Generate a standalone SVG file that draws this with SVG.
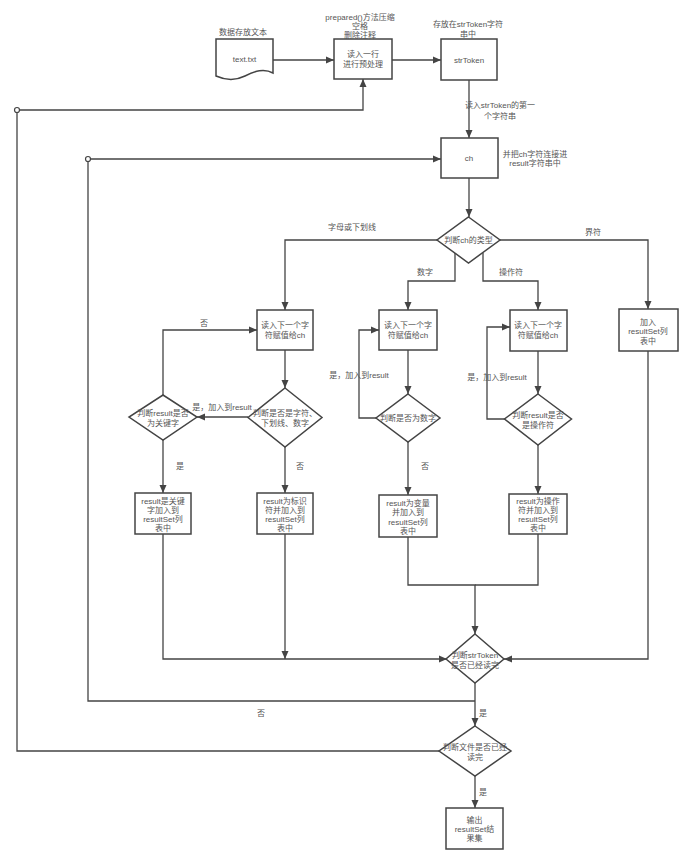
<svg xmlns="http://www.w3.org/2000/svg" width="692" height="864" viewBox="0 0 692 864">
<defs>
<marker id="arr" markerUnits="userSpaceOnUse" markerWidth="8" markerHeight="8" viewBox="0 0 8 8" refX="8" refY="4" orient="auto">
<path d="M0,0.5 L8,4 L0,7.5 Z" fill="#444"/>
</marker>
<style>
.n{fill:#fff;stroke:#444;stroke-width:1.5}
.c{fill:none;stroke:#444;stroke-width:1.3}
.t{font-family:"Liberation Sans","Noto Sans CJK SC",sans-serif;font-size:8px;fill:#555;text-anchor:middle}
.dot{fill:#fff;stroke:#444;stroke-width:1.2}
</style>
</defs>
<rect width="692" height="864" fill="#fff"/>

<g id="connectors">
<path class="c" d="M273,60 H334" marker-end="url(#arr)"/>
<path class="c" d="M392,60 H441" marker-end="url(#arr)"/>
<path class="c" d="M469,80 V138" marker-end="url(#arr)"/>
<path class="c" d="M469,178 V217" marker-end="url(#arr)"/>
<path class="c" d="M437,240 H285 V310" marker-end="url(#arr)"/>
<path class="c" d="M455,253 V281 H408 V310" marker-end="url(#arr)"/>
<path class="c" d="M483,253 V281 H538 V310" marker-end="url(#arr)"/>
<path class="c" d="M500,240 H648 V309" marker-end="url(#arr)"/>
<path class="c" d="M285,350 V388" marker-end="url(#arr)"/>
<path class="c" d="M248,417 H197" marker-end="url(#arr)"/>
<path class="c" d="M163,395 V330 H257" marker-end="url(#arr)"/>
<path class="c" d="M163,440 V493" marker-end="url(#arr)"/>
<path class="c" d="M285,447 V493" marker-end="url(#arr)"/>
<path class="c" d="M408,350 V394" marker-end="url(#arr)"/>
<path class="c" d="M377,418 H359 V330 H379" marker-end="url(#arr)"/>
<path class="c" d="M408,442 V495" marker-end="url(#arr)"/>
<path class="c" d="M538,351 V394" marker-end="url(#arr)"/>
<path class="c" d="M505,419 H487 V327 H510" marker-end="url(#arr)"/>
<path class="c" d="M538,445 V494" marker-end="url(#arr)"/>
<path class="c" d="M163,534 V659 H447" marker-end="url(#arr)"/>
<path class="c" d="M285,534 V659" marker-end="url(#arr)"/>
<path class="c" d="M408,537 V585 H475 V634" marker-end="url(#arr)"/>
<path class="c" d="M538,534 V585 H475"/>
<path class="c" d="M648,351 V659 H504" marker-end="url(#arr)"/>
<path class="c" d="M475,683 V726" marker-end="url(#arr)"/>
<path class="c" d="M475,701 H88 V159 H441" marker-end="url(#arr)"/>
<path class="c" d="M439,751 H17 V110 H363 V79" marker-end="url(#arr)"/>
<path class="c" d="M475,776 V808" marker-end="url(#arr)"/>
<circle class="dot" cx="88" cy="159" r="2.5"/>
<circle class="dot" cx="17" cy="110" r="2.5"/>
<text class="t" x="352" y="230">字母或下划线</text>
<text class="t" x="593" y="235">界符</text>
<text class="t" x="425" y="275">数字</text>
<text class="t" x="511" y="275">操作符</text>
<text class="t" x="204" y="326">否</text>
<text class="t" x="222" y="410">是，加入到result</text>
<text class="t" x="359" y="378">是，加入到result</text>
<text class="t" x="497" y="380">是，加入到result</text>
<text class="t" x="180" y="469">是</text>
<text class="t" x="300" y="469">否</text>
<text class="t" x="425" y="469">否</text>
<text class="t" x="483" y="716">是</text>
<text class="t" x="261" y="716">否</text>
<text class="t" x="483" y="795">是</text>
<text class="t" x="500" y="108">读入strToken的第一</text>
<text class="t" x="500" y="119">个字符串</text>
<text class="t" x="535" y="157">并把ch字符连接进</text>
<text class="t" x="535" y="166">result字符串中</text>
</g>

<g id="doc">
<path class="n" d="M216,39 H273 V73 C264,68 255,71 245,76 C235,81 225,80 216,76 Z"/>
<text class="t" x="244.5" y="62">text.txt</text>
<text class="t" x="243" y="35">数据存放文本</text>
</g>

<g id="preprocess">
<rect class="n" x="334" y="39" width="58" height="40"/>
<text class="t" x="363" y="57">读入一行</text>
<text class="t" x="363" y="67">进行预处理</text>
<text class="t" x="360" y="20">prepared()方法压缩</text>
<text class="t" x="360" y="29">空格</text>
<text class="t" x="360" y="38">删除注释</text>
</g>

<g id="strToken">
<rect class="n" x="441" y="39" width="56" height="41"/>
<text class="t" x="469" y="63">strToken</text>
<text class="t" x="468" y="27">存放在strToken字符</text>
<text class="t" x="468" y="37">串中</text>
</g>

<g id="ch">
<rect class="n" x="441" y="138" width="57" height="40"/>
<text class="t" x="469" y="161">ch</text>
</g>

<g id="typeDiamond">
<path class="n" d="M468.5,217 L500,240 L468.5,263 L437,240 Z"/>
<text class="t" x="468.5" y="243">判断ch的类型</text>
</g>

<g id="readLetter">
<rect class="n" x="257" y="310" width="56" height="40"/>
<text class="t" x="285" y="328">读入下一个字</text>
<text class="t" x="285" y="338">符赋值给ch</text>
</g>

<g id="charDiamond">
<path class="n" d="M285,388 L322,417.5 L285,447 L248,417.5 Z"/>
<text class="t" x="285" y="416">判断是否是字符、</text>
<text class="t" x="285" y="426">下划线、数字</text>
</g>

<g id="keywordDiamond">
<path class="n" d="M163,395 L197,417 L163,440 L129,417 Z"/>
<text class="t" x="163" y="416">判断result是否</text>
<text class="t" x="163" y="426">为关键字</text>
</g>

<g id="keywordBox">
<rect class="n" x="135" y="493" width="56" height="41"/>
<text class="t" x="163" y="504">result是关键</text>
<text class="t" x="163" y="513">字加入到</text>
<text class="t" x="163" y="522">resultSet列</text>
<text class="t" x="163" y="531">表中</text>
</g>

<g id="identBox">
<rect class="n" x="257" y="493" width="56" height="41"/>
<text class="t" x="285" y="504">result为标识</text>
<text class="t" x="285" y="513">符并加入到</text>
<text class="t" x="285" y="522">resultSet列</text>
<text class="t" x="285" y="531">表中</text>
</g>

<g id="readDigit">
<rect class="n" x="379" y="310" width="58" height="40"/>
<text class="t" x="408" y="328">读入下一个字</text>
<text class="t" x="408" y="338">符赋值给ch</text>
</g>

<g id="digitDiamond">
<path class="n" d="M408,394 L440,418 L408,442 L376,418 Z"/>
<text class="t" x="408" y="421">判断是否为数字</text>
</g>

<g id="varBox">
<rect class="n" x="379" y="495" width="58" height="42"/>
<text class="t" x="408" y="506">result为变量</text>
<text class="t" x="408" y="515">并加入到</text>
<text class="t" x="408" y="525">resultSet列</text>
<text class="t" x="408" y="534">表中</text>
</g>

<g id="readOp">
<rect class="n" x="510" y="310" width="57" height="41"/>
<text class="t" x="538" y="328">读入下一个字</text>
<text class="t" x="538" y="338">符赋值给ch</text>
</g>

<g id="opDiamond">
<path class="n" d="M538,394 L571.5,419 L538,445 L504.5,419 Z"/>
<text class="t" x="538" y="418">判断result是否</text>
<text class="t" x="538" y="428">是操作符</text>
</g>

<g id="opBox">
<rect class="n" x="509" y="494" width="58" height="40"/>
<text class="t" x="538" y="504">result为操作</text>
<text class="t" x="538" y="513">符并加入到</text>
<text class="t" x="538" y="522">resultSet列</text>
<text class="t" x="538" y="531">表中</text>
</g>

<g id="delimBox">
<rect class="n" x="619" y="309" width="59" height="42"/>
<text class="t" x="648" y="325">加入</text>
<text class="t" x="648" y="334">resultSet列</text>
<text class="t" x="648" y="344">表中</text>
</g>

<g id="endTokenDiamond">
<path class="n" d="M475,634 L504,659 L475,683 L446,659 Z"/>
<text class="t" x="475" y="658">判断strToken</text>
<text class="t" x="475" y="668">是否已经读完</text>
</g>

<g id="endFileDiamond">
<path class="n" d="M475,726 L511,751 L475,776 L439,751 Z"/>
<text class="t" x="475" y="750">判断文件是否已经</text>
<text class="t" x="475" y="760">读完</text>
</g>

<g id="output">
<rect class="n" x="446" y="808" width="57" height="41"/>
<text class="t" x="474.5" y="823">输出</text>
<text class="t" x="474.5" y="832">resultSet结</text>
<text class="t" x="474.5" y="841">果集</text>
</g>
</svg>
